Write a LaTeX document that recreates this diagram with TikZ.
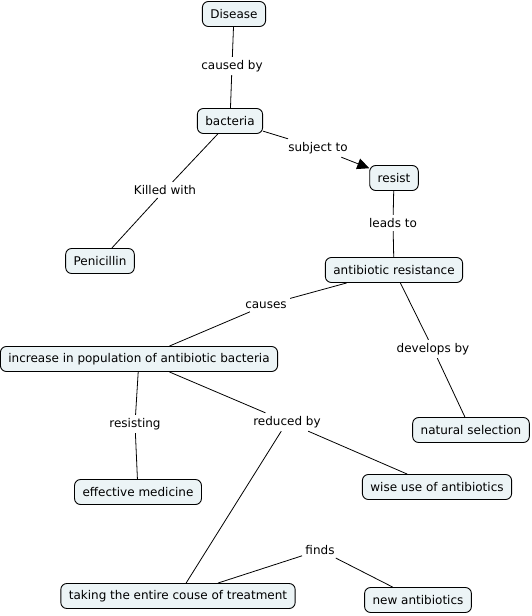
\documentclass[tikz,border=0pt]{standalone}
\usepackage{fontspec}
\setmainfont{DejaVu Sans}
\usetikzlibrary{arrows.meta}
\definecolor{cfill}{RGB}{236,244,246}
\tikzset{
    concept/.style={draw,fill=cfill,rounded corners=6pt,line width=0.9pt,
        inner xsep=8pt,minimum height=25pt,font=\fontsize{12}{14}\selectfont},
    linkphrase/.style={inner sep=3pt,font=\fontsize{12}{14}\selectfont},
}
\begin{document}
\begin{tikzpicture}[x=1pt,y=-1pt,line width=0.8pt]
    \useasboundingbox (0,0) rectangle (532,616);
% Concepts
    \node[concept] (disease) at (234,14) {Disease};
    \node[concept] (bacteria) at (230,121) {bacteria};
    \node[concept] (resist) at (394,178) {resist};
    \node[concept] (penicillin) at (100,261) {Penicillin};
    \node[concept] (resistance) at (394,270) {antibiotic resistance};
    \node[concept] (increase) at (139,359) {increase in population of antibiotic bacteria};
    \node[concept] (selection) at (471,430) {natural selection};
    \node[concept] (medicine) at (138,492) {effective medicine};
    \node[concept] (wiseuse) at (437,487) {wise use of antibiotics};
    \node[concept] (treatment) at (178,596) {taking the entire couse of treatment};
    \node[concept] (newanti) at (418,600) {new antibiotics};
% Linking phrases
    \node[linkphrase] (causedby) at (232,66) {caused by};
    \node[linkphrase] (subjectto) at (318,148) {subject to};
    \node[linkphrase] (killedwith) at (165,190) {Killed with};
    \node[linkphrase] (leadsto) at (393,223) {leads to};
    \node[linkphrase] (causes) at (266,305) {causes};
    \node[linkphrase] (developsby) at (433,349) {develops by};
    \node[linkphrase] (resisting) at (135,424) {resisting};
    \node[linkphrase] (reducedby) at (287,422) {reduced by};
    \node[linkphrase] (finds) at (320,550) {finds};
% Connections
    \foreach \a/\b in {disease/causedby,causedby/bacteria,bacteria/subjectto,
        bacteria/killedwith,killedwith/penicillin,resist/leadsto,leadsto/resistance,
        resistance/causes,causes/increase,resistance/developsby,developsby/selection,
        increase/resisting,resisting/medicine,increase/reducedby,reducedby/wiseuse,
        reducedby/treatment,treatment/finds,finds/newanti}{
        \draw (\a) -- (\b);
    }
    \draw[-{Triangle[length=12pt,width=11pt]}] (subjectto) -- (resist);
\end{tikzpicture}
\end{document}
